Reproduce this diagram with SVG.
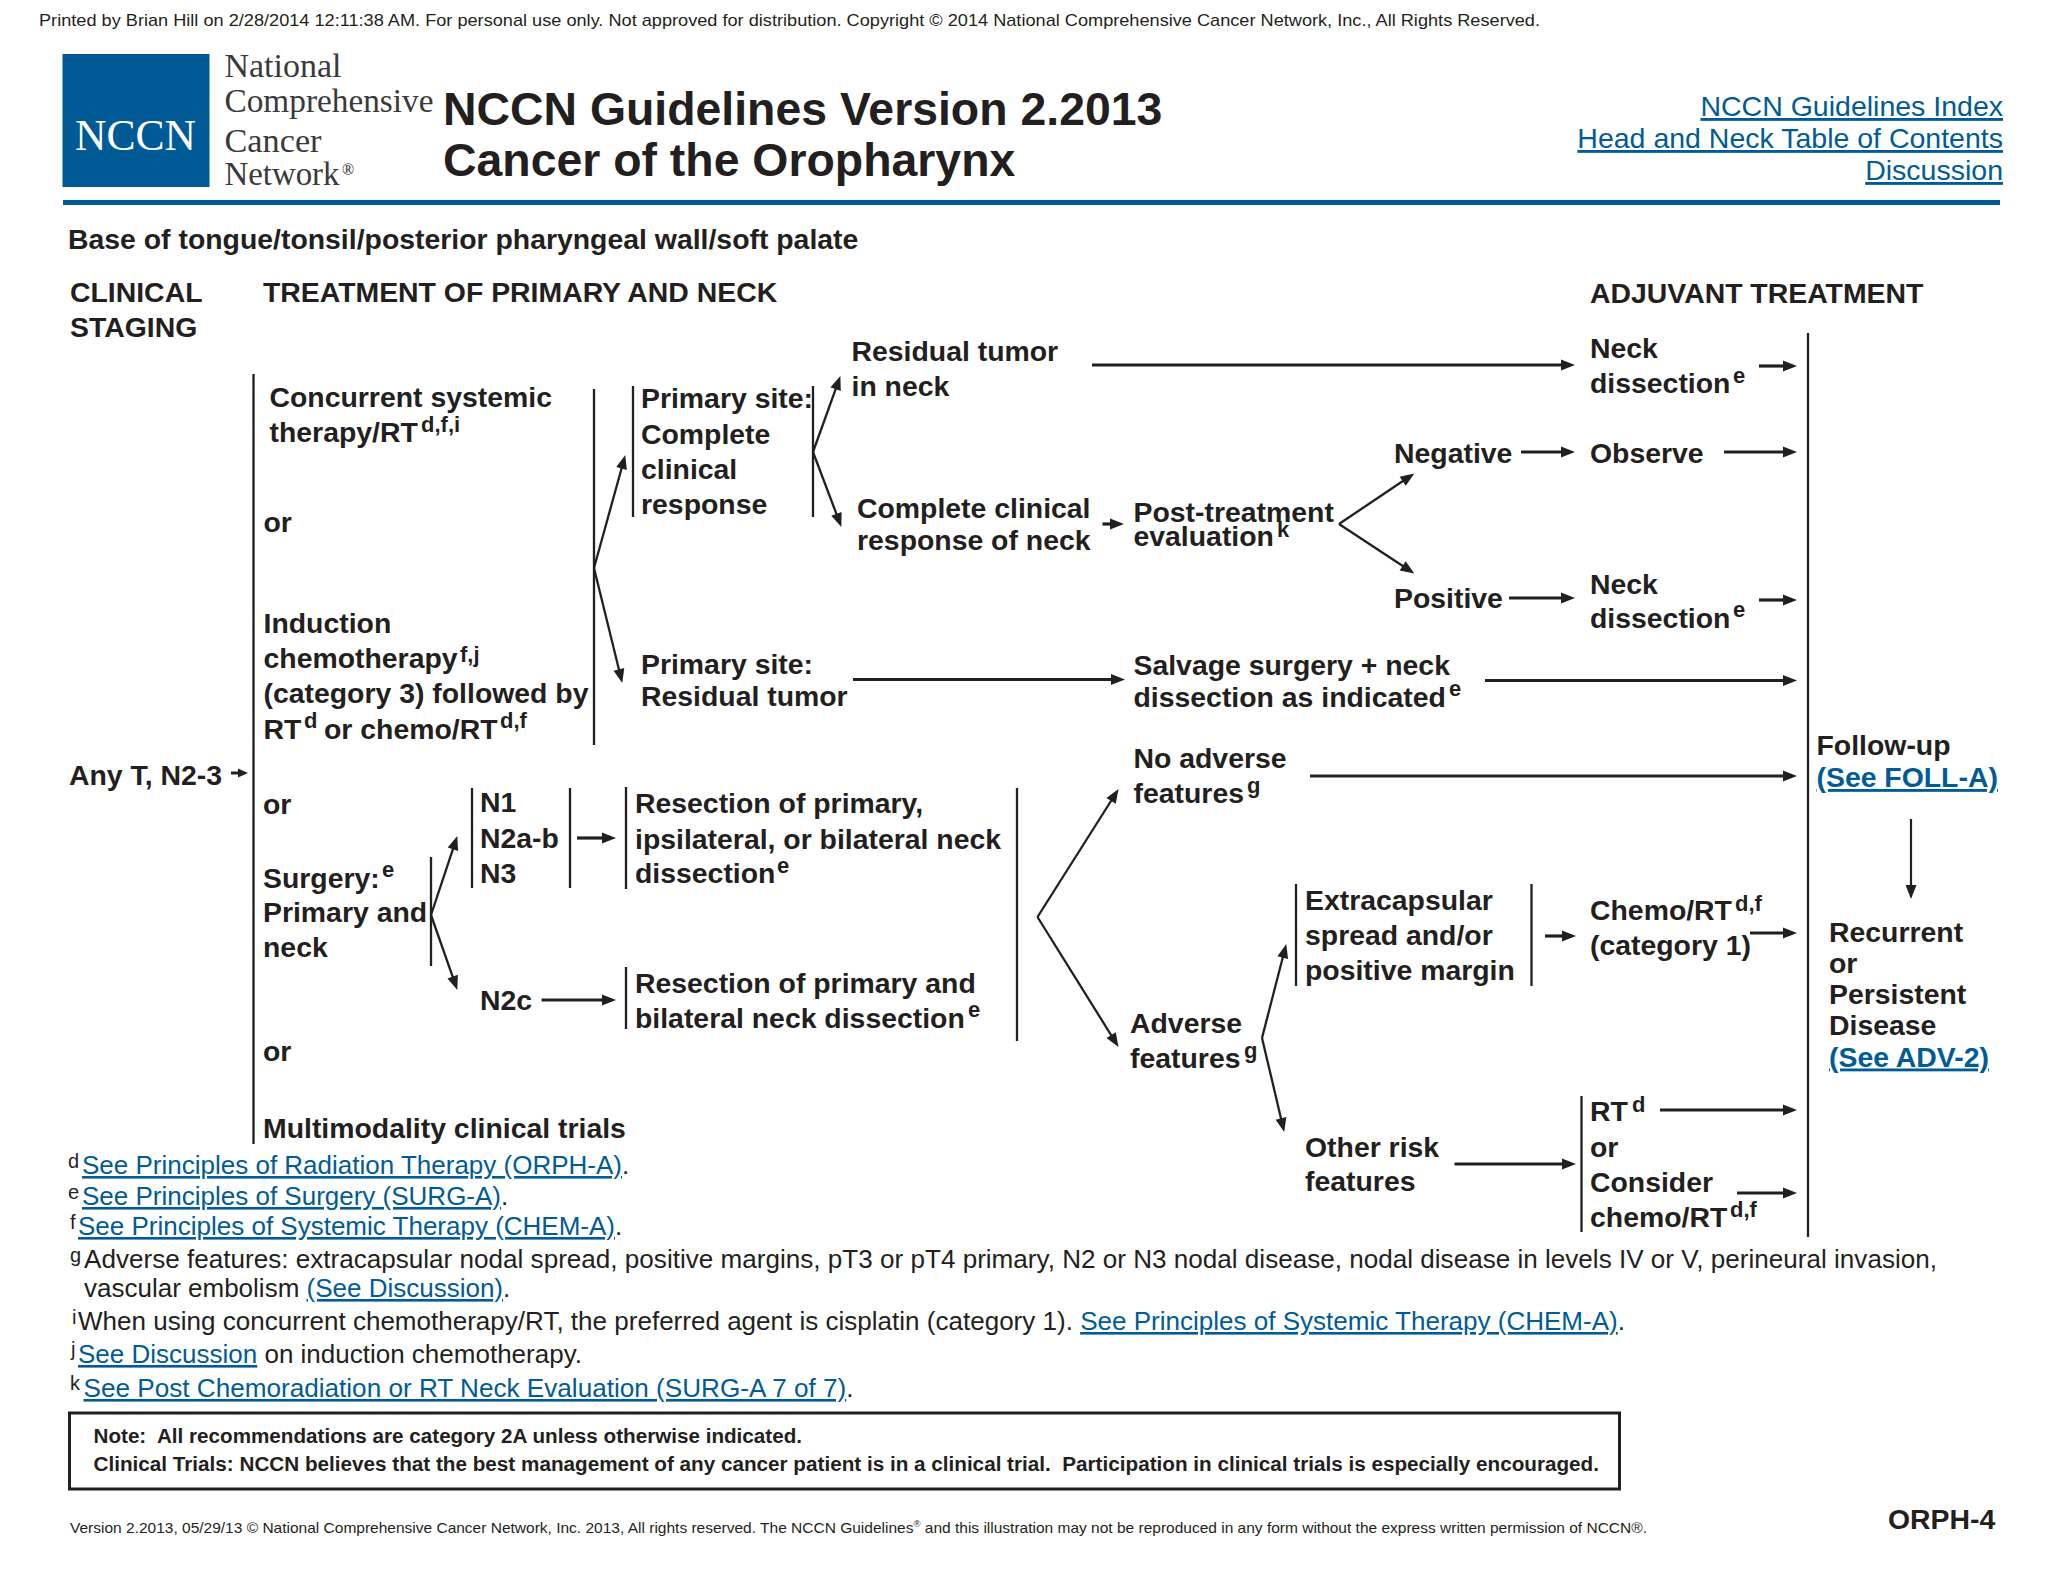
<svg xmlns="http://www.w3.org/2000/svg" width="2048" height="1582" viewBox="0 0 2048 1582">
<style>
text{font-family:"Liberation Sans",Arial,sans-serif;fill:#231f20}
.b{font-size:28.4px;font-weight:700}
.s{font-size:22px;font-weight:700}
.f{font-size:26px}
.fs{font-size:20px}
.l{fill:#005b96;text-decoration:underline}
.lg{font-family:"Liberation Serif","Times New Roman",serif;font-size:33.3px;fill:#3a3a3c}
.n{font-size:19.5px;font-weight:700}
line{stroke:#231f20;fill:none}
.a{stroke-width:3.2;marker-end:url(#h)}
.d{stroke-width:2.3;marker-end:url(#h)}
.t{stroke-width:2.2;marker-end:url(#h)}
.m{stroke-width:3;marker-end:url(#h2)}
.v{stroke-width:2.3}
</style>
<defs>
<marker id="h" markerUnits="userSpaceOnUse" markerWidth="15" markerHeight="12" refX="8" refY="6" orient="auto"><path d="M1,.5 L15,6 L1,11.5 z" fill="#231f20"/></marker>
<marker id="h2" markerUnits="userSpaceOnUse" markerWidth="11" markerHeight="10" refX="5" refY="5" orient="auto"><path d="M1,.5 L11,5 L1,9.5 z" fill="#231f20"/></marker>
</defs>
<rect width="2048" height="1582" fill="#fff"/>
<g id="header">
<text x="39" y="26" font-size="17" textLength="1501" lengthAdjust="spacingAndGlyphs">Printed by Brian Hill on 2/28/2014 12:11:38 AM. For personal use only. Not approved for distribution. Copyright © 2014 National Comprehensive Cancer Network, Inc., All Rights Reserved.</text>
<rect x="62.5" y="54" width="147" height="133" fill="#005a96"/>
<text x="75" y="150" font-size="43.5" style="font-family:'Liberation Serif',serif;fill:#fff">NCCN</text>
<text class="lg" x="224.5" y="77" textLength="117" lengthAdjust="spacingAndGlyphs">National</text>
<text class="lg" x="224.5" y="112" textLength="209" lengthAdjust="spacingAndGlyphs">Comprehensive</text>
<text class="lg" x="224.5" y="152" textLength="97" lengthAdjust="spacingAndGlyphs">Cancer</text>
<text class="lg" x="224.5" y="185" textLength="115" lengthAdjust="spacingAndGlyphs">Network</text>
<text x="342" y="175" font-size="16" fill="#3a3a3c" style="font-family:'Liberation Serif',serif">®</text>
<text x="443" y="125" font-size="46.4" font-weight="700">NCCN Guidelines Version 2.2013</text>
<text x="443" y="176" font-size="46.4" font-weight="700">Cancer of the Oropharynx</text>
<text x="2003" y="116" font-size="28.5" text-anchor="end" class="l">NCCN Guidelines Index</text>
<text x="2003" y="148" font-size="28.5" text-anchor="end" class="l">Head and Neck Table of Contents</text>
<text x="2003" y="180" font-size="28.5" text-anchor="end" class="l">Discussion</text>
<rect x="63" y="200" width="1937" height="5" fill="#005a96"/>
<text class="b" x="68" y="248.5">Base of tongue/tonsil/posterior pharyngeal wall/soft palate</text>
<text class="b" x="70" y="302">CLINICAL</text>
<text class="b" x="70" y="337">STAGING</text>
<text class="b" x="263" y="302">TREATMENT OF PRIMARY AND NECK</text>
<text class="b" x="1590" y="303">ADJUVANT TREATMENT</text>
</g>
<g id="connectors">
<line class="v" x1="253.5" y1="374" x2="253.5" y2="1144"/>
<line class="v" x1="594" y1="389" x2="594" y2="745"/>
<line class="v" x1="633" y1="386" x2="633" y2="517"/>
<line class="v" x1="813" y1="386" x2="813" y2="517"/>
<line class="v" x1="431" y1="857" x2="431" y2="966"/>
<line class="v" x1="472" y1="788" x2="472" y2="888"/>
<line class="v" x1="570" y1="788" x2="570" y2="888"/>
<line class="v" x1="626" y1="787" x2="626" y2="889"/>
<line class="v" x1="626" y1="967" x2="626" y2="1029"/>
<line class="v" x1="1017" y1="788" x2="1017" y2="1041"/>
<line class="v" x1="1296" y1="884" x2="1296" y2="986"/>
<line class="v" x1="1531.5" y1="884" x2="1531.5" y2="986"/>
<line class="v" x1="1581.5" y1="1096" x2="1581.5" y2="1232"/>
<line class="v" x1="1808" y1="333" x2="1808" y2="1237"/>
<line class="m" x1="231" y1="773" x2="242" y2="773"/>
<line class="d" x1="594" y1="568" x2="623.4" y2="461.8"/>
<line class="d" x1="594" y1="568" x2="620.6" y2="676.2"/>
<line class="d" x1="813" y1="452" x2="838" y2="382.6"/>
<line class="d" x1="813" y1="452" x2="838.9" y2="520.4"/>
<line class="a" x1="1092" y1="365" x2="1568" y2="365"/>
<line class="a" x1="1759" y1="366" x2="1790" y2="366"/>
<line class="a" x1="1102.5" y1="524" x2="1117" y2="524"/>
<line class="d" x1="1339" y1="524" x2="1408.5" y2="477.3"/>
<line class="d" x1="1339" y1="524" x2="1408.5" y2="569.7"/>
<line class="a" x1="1521" y1="452" x2="1568" y2="452"/>
<line class="a" x1="1724" y1="452" x2="1790" y2="452"/>
<line class="a" x1="1509" y1="598" x2="1568" y2="598"/>
<line class="a" x1="1759" y1="600" x2="1790" y2="600"/>
<line class="a" x1="853" y1="679.5" x2="1118" y2="679.5"/>
<line class="a" x1="1485" y1="680.5" x2="1790" y2="680.5"/>
<line class="a" x1="1310" y1="776" x2="1790" y2="776"/>
<line class="t" x1="1911" y1="819" x2="1911" y2="892"/>
<line class="d" x1="431" y1="915" x2="455.1" y2="842.7"/>
<line class="d" x1="431" y1="915" x2="455" y2="983.3"/>
<line class="a" x1="577" y1="838" x2="609" y2="838"/>
<line class="a" x1="541.6" y1="1000" x2="609" y2="1000"/>
<line class="d" x1="1037.5" y1="917" x2="1114.8" y2="795"/>
<line class="d" x1="1037.5" y1="917" x2="1114.8" y2="1041"/>
<line class="d" x1="1262" y1="1038" x2="1284.5" y2="950.8"/>
<line class="d" x1="1262" y1="1038" x2="1282.6" y2="1125.2"/>
<line class="a" x1="1545" y1="936" x2="1569" y2="936"/>
<line class="a" x1="1750" y1="933" x2="1790" y2="933"/>
<line class="a" x1="1660" y1="1110" x2="1790" y2="1110"/>
<line class="a" x1="1737" y1="1193" x2="1790" y2="1193"/>
<line class="a" x1="1454.5" y1="1164" x2="1569" y2="1164"/>
</g>
<g id="staging"><text class="b" x="69" y="785">Any T, N2-3</text></g>
<g id="concurrent"><text class="b" x="269.5" y="406.5">Concurrent systemic</text><text class="b" x="269.5" y="441.5">therapy/RT</text><text class="s" x="421" y="432">d,f,i</text></g>
<g id="or1"><text class="b" x="263.5" y="532">or</text></g>
<g id="induction"><text class="b" x="263.5" y="633">Induction</text><text class="b" x="263.5" y="667.5">chemotherapy</text><text class="s" x="460" y="662">f,j</text><text class="b" x="263.5" y="703">(category 3) followed by</text><text class="b" x="263.5" y="738.5">RT</text><text class="s" x="304" y="728">d</text><text class="b" x="324" y="738.5">or chemo/RT</text><text class="s" x="500" y="728">d,f</text></g>
<g id="or2"><text class="b" x="263" y="814">or</text></g>
<g id="surgery"><text class="b" x="263" y="887.5">Surgery:</text><text class="s" x="382" y="877">e</text><text class="b" x="263" y="922">Primary and</text><text class="b" x="263" y="957">neck</text></g>
<g id="or3"><text class="b" x="263" y="1060.5">or</text></g>
<g id="trials"><text class="b" x="263" y="1137.5">Multimodality clinical trials</text></g>
<g id="complete"><text class="b" x="641" y="408">Primary site:</text><text class="b" x="641" y="444">Complete</text><text class="b" x="641" y="479">clinical</text><text class="b" x="641" y="514">response</text></g>
<g id="residual"><text class="b" x="641" y="674">Primary site:</text><text class="b" x="641" y="705.5">Residual tumor</text></g>
<g id="neck-tumor"><text class="b" x="851.5" y="361">Residual tumor</text><text class="b" x="851.5" y="396">in neck</text></g>
<g id="neck-complete"><text class="b" x="857" y="517.5">Complete clinical</text><text class="b" x="857" y="549.5">response of neck</text></g>
<g id="post"><text class="b" x="1133.5" y="521.5">Post-treatment</text><text class="b" x="1133.5" y="546">evaluation</text><text class="s" x="1277" y="537">k</text></g>
<g id="salvage"><text class="b" x="1133.5" y="674.5">Salvage surgery + neck</text><text class="b" x="1133.5" y="706.5">dissection as indicated</text><text class="s" x="1449" y="696">e</text></g>
<g id="negative"><text class="b" x="1394" y="462.5">Negative</text></g>
<g id="positive"><text class="b" x="1394" y="607.5">Positive</text></g>
<g id="observe"><text class="b" x="1590" y="462.5">Observe</text></g>
<g id="dissect1"><text class="b" x="1590" y="358">Neck</text><text class="b" x="1590" y="393">dissection</text><text class="s" x="1733" y="383">e</text></g>
<g id="dissect2"><text class="b" x="1590" y="593.5">Neck</text><text class="b" x="1590" y="628">dissection</text><text class="s" x="1733" y="617">e</text></g>
<g id="nodes"><text class="b" x="480" y="812">N1</text><text class="b" x="480" y="847.5">N2a-b</text><text class="b" x="480" y="882.5">N3</text></g>
<g id="n2c"><text class="b" x="480" y="1009.5">N2c</text></g>
<g id="resect1"><text class="b" x="635" y="812.5">Resection of primary,</text><text class="b" x="635" y="848.5">ipsilateral, or bilateral neck</text><text class="b" x="635" y="882.5">dissection</text><text class="s" x="777" y="873">e</text></g>
<g id="resect2"><text class="b" x="635" y="992.5">Resection of primary and</text><text class="b" x="635" y="1027.5">bilateral neck dissection</text><text class="s" x="968" y="1017">e</text></g>
<g id="no-adverse"><text class="b" x="1133.5" y="767.5">No adverse</text><text class="b" x="1133.5" y="802.5">features</text><text class="s" x="1247" y="793">g</text></g>
<g id="adverse"><text class="b" x="1130" y="1032.5">Adverse</text><text class="b" x="1130" y="1067.5">features</text><text class="s" x="1244" y="1058">g</text></g>
<g id="extracapsular"><text class="b" x="1305" y="909.5">Extracapsular</text><text class="b" x="1305" y="944.5">spread and/or</text><text class="b" x="1305" y="979.5">positive margin</text></g>
<g id="other-risk"><text class="b" x="1305" y="1156.5">Other risk</text><text class="b" x="1305" y="1191">features</text></g>
<g id="chemo"><text class="b" x="1590" y="919.5">Chemo/RT</text><text class="s" x="1735" y="911">d,f</text><text class="b" x="1590" y="954.5">(category 1)</text></g>
<g id="rt"><text class="b" x="1590" y="1120.5">RT</text><text class="s" x="1632" y="1112">d</text><text class="b" x="1590" y="1156.5">or</text><text class="b" x="1590" y="1191.5">Consider</text><text class="b" x="1590" y="1226.5">chemo/RT</text><text class="s" x="1730" y="1217">d,f</text></g>
<g id="followup"><text class="b" x="1816.5" y="754.5">Follow-up</text><text class="b l" x="1816.5" y="787">(See FOLL-A)</text></g>
<g id="recurrent"><text class="b" x="1829" y="941.5">Recurrent</text><text class="b" x="1829" y="972.5">or</text><text class="b" x="1829" y="1004">Persistent</text><text class="b" x="1829" y="1035">Disease</text><text class="b l" x="1829" y="1066.5">(See ADV-2)</text></g>
<g id="footnotes">
<text class="fs" x="68" y="1168">d</text><text class="f" x="82" y="1174"><tspan class="l">See Principles of Radiation Therapy (ORPH-A)</tspan>.</text>
<text class="fs" x="68" y="1199">e</text><text class="f" x="82" y="1205"><tspan class="l">See Principles of Surgery (SURG-A)</tspan>.</text>
<text class="fs" x="70" y="1229">f</text><text class="f" x="78" y="1235"><tspan class="l">See Principles of Systemic Therapy (CHEM-A)</tspan>.</text>
<text class="fs" x="70" y="1262">g</text><text class="f" x="84" y="1268" textLength="1853" lengthAdjust="spacingAndGlyphs">Adverse features: extracapsular nodal spread, positive margins, pT3 or pT4 primary, N2 or N3 nodal disease, nodal disease in levels IV or V, perineural invasion,</text>
<text class="f" x="84" y="1297">vascular embolism <tspan class="l">(See Discussion)</tspan>.</text>
<text class="fs" x="72" y="1324">i</text><text class="f" x="78" y="1330" textLength="1547" lengthAdjust="spacingAndGlyphs">When using concurrent chemotherapy/RT, the preferred agent is cisplatin (category 1). <tspan class="l">See Principles of Systemic Therapy (CHEM-A)</tspan>.</text>
<text class="fs" x="71" y="1356">j</text><text class="f" x="78" y="1363"><tspan class="l">See Discussion</tspan> on induction chemotherapy.</text>
<text class="fs" x="70" y="1390">k</text><text class="f" x="83.5" y="1397" textLength="770" lengthAdjust="spacingAndGlyphs"><tspan class="l">See Post Chemoradiation or RT Neck Evaluation (SURG-A 7 of 7)</tspan>.</text>
</g>
<g id="note">
<rect x="69.5" y="1413" width="1550" height="76" fill="#fff" stroke="#231f20" stroke-width="3"/>
<text class="n" x="93.5" y="1443" xml:space="preserve" textLength="708.5" lengthAdjust="spacingAndGlyphs">Note:  All recommendations are category 2A unless otherwise indicated.</text>
<text class="n" x="93.5" y="1471" xml:space="preserve" textLength="1505.5" lengthAdjust="spacingAndGlyphs">Clinical Trials: NCCN believes that the best management of any cancer patient is in a clinical trial.  Participation in clinical trials is especially encouraged.</text>
</g>
<g id="footer">
<text x="70" y="1533" font-size="14.5" textLength="1577" lengthAdjust="spacingAndGlyphs">Version 2.2013, 05/29/13 © National Comprehensive Cancer Network, Inc. 2013, All rights reserved. The NCCN Guidelines<tspan font-size="9" dy="-6">®</tspan><tspan dy="6"> and this illustration may not be reproduced in any form without the express written permission of NCCN®.</tspan></text>
<text class="b" x="1888" y="1529">ORPH-4</text>
</g>
</svg>
